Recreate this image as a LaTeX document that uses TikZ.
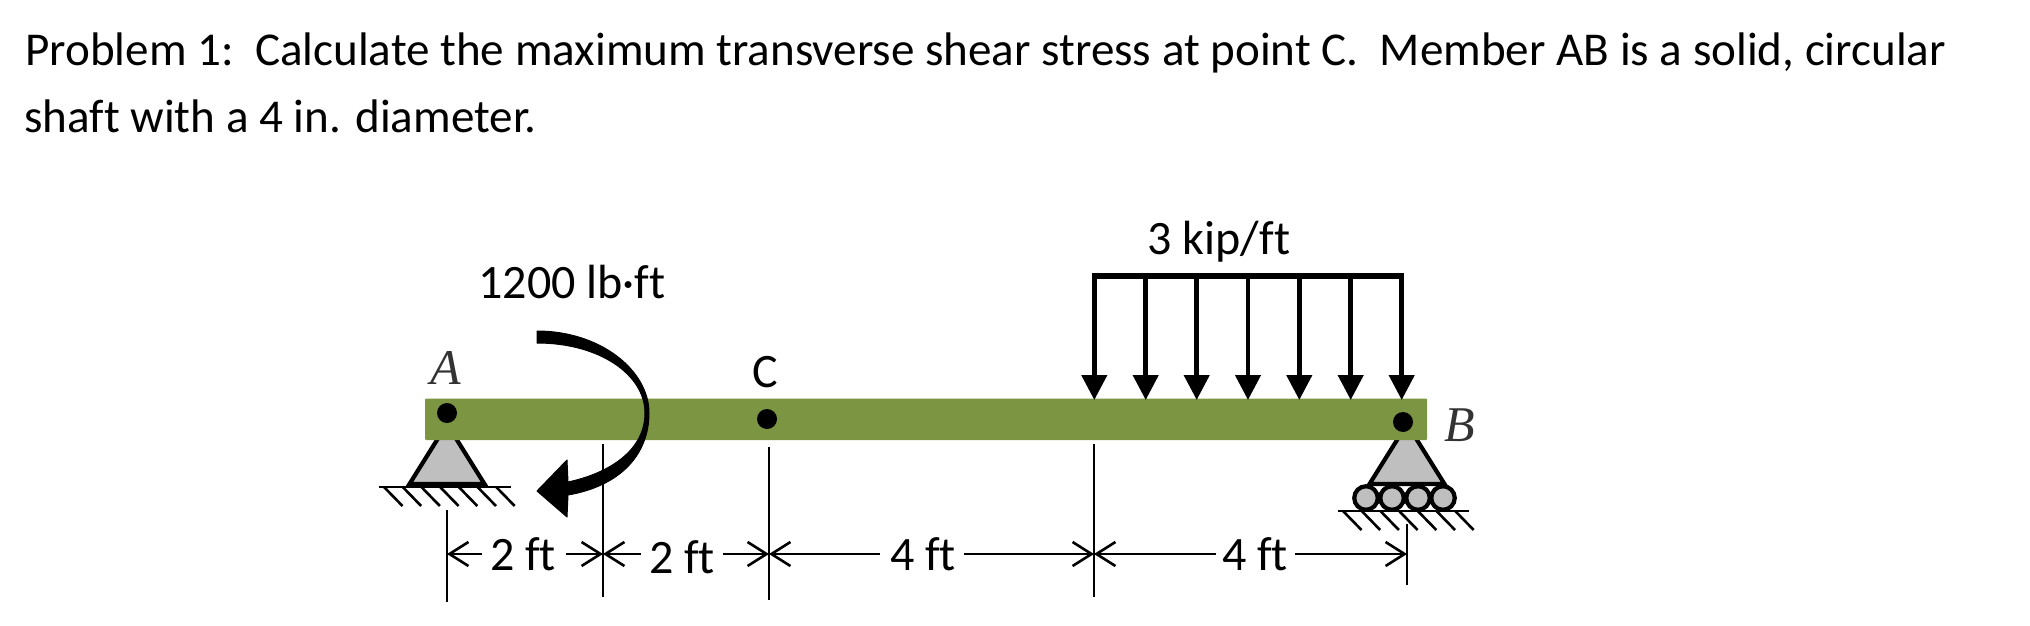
\documentclass[tikz,border=0pt]{standalone}
\usepackage{fontspec}
\setmainfont[Ligatures=NoCommon]{Carlito}
\newfontfamily\ital[Ligatures=TeX]{Liberation Serif}
\usetikzlibrary{arrows.meta,calc}
\tikzset{
  txt/.style={inner sep=0pt,anchor=base west,font=\fontsize{47.1}{54}\selectfont},
  lab/.style={inner sep=0pt,anchor=base,font=\fontsize{48}{54}\selectfont},
  ptlab/.style={inner sep=0pt,anchor=base,font=\ital\itshape\fontsize{50}{54}\selectfont,text=black!80},
  beam/.style={fill=beamgreen,draw=none,rounded corners=1pt},
  support/.style={draw=black,line width=4.2pt,fill=suppgray,line join=miter},
  roller/.style={circle,draw=black,line width=4.2pt,fill=suppgray,minimum size=23.5pt,inner sep=0pt},
  pin/.style={circle,fill=black,minimum size=20pt,inner sep=0pt},
  ground/.style={line width=2.6pt,black},
  hatch/.style={line width=2.6pt,black},
  ext/.style={line width=2.6pt,black},
  dimline/.style={line width=2.6pt,black,-{Straight Barb[length=19pt,width=24pt,line width=2.6pt]}},
  loadbar/.style={line width=6pt,black},
  loadarrow/.style={line width=4.5pt,black,-{Triangle[length=25pt,width=25pt]},shorten >=0pt},
}
\definecolor{beamgreen}{HTML}{7B9542}
\definecolor{suppgray}{HTML}{BFBFBF}
\begin{document}
\begin{tikzpicture}[x=1pt,y=-1pt]
\useasboundingbox (0,0) rectangle (2030,626);
% text
\node[txt] (t1) at (25,66) {Problem 1:\ \ Calculate the maximum transverse shear stress at point C.\ \ Member AB is a solid, circular};
\node[txt] (t2) at (24,132) {shaft with a 4 in. diameter.};
% supports (behind beam)
\draw[support] (409.5,484) -- (447,424) -- (484.5,484) -- cycle;
\draw[support] (1369.5,484) -- (1407,424) -- (1444.5,484) -- cycle;
% beam
\fill[beam] (425,398.5) rectangle (1427,440);
\node[pin] (A) at (447,413) {};
\node[pin] (C) at (767,419) {};
\node[pin] (B) at (1403,422) {};
% labels
\node[ptlab] (la) at (446,384) {A};
\node[ptlab] (lb) at (1460,441) {B};
\node[lab] (lc) at (765,387) {C};
\node[lab] (lm) at (572,298) {1200 lb·ft};
\node[lab] (lq) at (1219,254) {3 kip/ft};
% ground A
\coordinate (ga1) at (379,487); \coordinate (ga2) at (511,487);
\draw[ground] (ga1) -- (ga2);
\foreach \i in {0,...,6} \draw[hatch] ($(384,487)+(18.7*\i,0)$) -- ++(18.5,19);
% rollers
\foreach \n/\x in {r1/1366,r2/1392,r3/1418,r4/1443} \node[roller] (\n) at (\x,498) {};
% ground B
\coordinate (gb1) at (1338,511); \coordinate (gb2) at (1469,511);
\draw[ground] (gb1) -- (gb2);
\foreach \i in {0,...,6} \draw[hatch] ($(1343,511)+(18.7*\i,0)$) -- ++(18.5,19);
% moment
\fill[black,draw=black,line width=1pt,line join=round]
  (537,331) .. controls (600,331) and (649,370) .. (649,413)
  .. controls (649,455) and (620,486) .. (568,495)
  -- (567,517) -- (537,491) -- (567,460) -- (568,482)
  .. controls (610,473) and (645,450) .. (645,413)
  .. controls (645,375) and (600,343) .. (537,343) -- cycle;
% load
\coordinate (q1) at (1092,276); \coordinate (q2) at (1404,276);
\draw[loadbar] (q1) -- (q2);
\foreach \x in {1094.3,1145.7,1196.7,1248,1299.3,1350.7,1401.7}
  \draw[loadarrow] (\x,276) -- (\x,400);
% extension lines
\coordinate (d0t) at (447,510); \coordinate (d0b) at (447,602);
\coordinate (d1t) at (603,444); \coordinate (d1b) at (603,597);
\coordinate (d2t) at (769,447); \coordinate (d2b) at (769,600);
\coordinate (d3t) at (1094,444); \coordinate (d3b) at (1094,597);
\coordinate (d4t) at (1407,524); \coordinate (d4b) at (1407,585);
\foreach \k in {0,...,4} \draw[ext] (d\k t) -- (d\k b);
% dimensions
\node[lab] (da) at (523,570) {2 ft};
\node[lab] (db) at (682,573) {2 ft};
\node[lab] (dc) at (923,570) {4 ft};
\node[lab] (dd) at (1255,570) {4 ft};
\draw[dimline] (482,554) -- (447,554);
\draw[dimline] (566,554) -- (603,554);
\draw[dimline] (641,554) -- (603,554);
\draw[dimline] (723,554) -- (769,554);
\draw[dimline] (880,554) -- (769,554);
\draw[dimline] (964,554) -- (1094,554);
\draw[dimline] (1216,554) -- (1094,554);
\draw[dimline] (1295,554) -- (1407,554);
\end{tikzpicture}
\end{document}
